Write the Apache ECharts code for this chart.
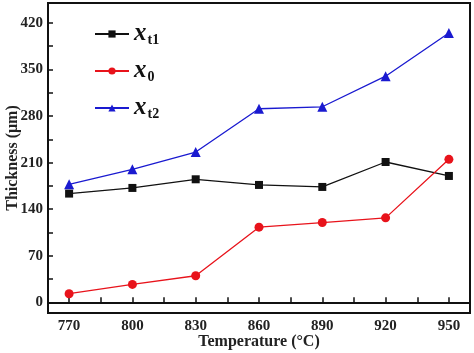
<!DOCTYPE html>
<html>
<head>
<meta charset="utf-8">
<script src="https://cdn.jsdelivr.net/npm/echarts@6/dist/echarts.min.js"></script>
<style>
  html, body { margin: 0; padding: 0; background: #fff; }
  #main { width: 474px; height: 353px; }
</style>
</head>
<body>
<div id="main"></div>
<script>
// 温度 (°C)
var temps = [770, 800, 830, 860, 890, 920, 950];
// 厚度 (μm)
var xt1 = [163.5, 172, 185, 176.5, 173.5, 211, 190];
var x0 = [13, 27, 40, 113, 120, 127, 215];
var xt2 = [177.5, 200, 226, 291, 294, 340, 405];
var xTickLabels = [770, 800, 830, 860, 890, 920, 950];
var xMinorTicks = [770, 785, 800, 815, 830, 845, 860, 875, 890, 905, 920, 935, 950];
var yTickLabels = [0, 70, 140, 210, 280, 350, 420];
var yMinorTicks = [0, 35, 70, 105, 140, 175, 210, 245, 280, 315, 350, 385, 420];

var font = '"Liberation Serif", "DejaVu Serif", serif';

function pairs(vals) {
  return temps.map(function (t, i) { return [t, vals[i]]; });
}

var chart = echarts.init(document.getElementById('main'));
var option = {
  animation: false,
  grid: {
    left: 48,
    right: 4,
    top: 3,
    bottom: 40,
    outerBoundsMode: 'none',
    containLabel: false,
    show: true,
    borderColor: '#111',
    borderWidth: 2
  },
  legend: {
    orient: 'vertical',
    left: 89,
    top: 16,
    itemWidth: 34,
    itemHeight: 9,
    itemGap: 11,
    data: ['xt1', 'x0', 'xt2'],
    formatter: function (name) {
      return '{x|x}{s|' + name.substring(1) + '}';
    },
    textStyle: {
      rich: {
        x: { fontFamily: font, fontStyle: 'italic', fontWeight: 'bold', fontSize: 25, color: '#111', lineHeight: 26, padding: [0, 0, 0, 0] },
        s: { fontFamily: font, fontWeight: 'bold', fontSize: 14, color: '#111', lineHeight: 26, padding: [12, 0, 0, 1] }
      }
    }
  },
  xAxis: {
    type: 'value',
    min: 760,
    max: 960,
    name: 'Temperature (°C)',
    nameLocation: 'middle',
    nameGap: 21,
    nameMoveOverlap: false,
    nameTextStyle: { fontFamily: font, fontWeight: 'bold', fontSize: 16, color: '#222' },
    axisLine: { lineStyle: { color: '#111', width: 2 } },
    axisTick: { inside: true, length: 5, customValues: xMinorTicks, lineStyle: { color: '#111', width: 1.5 } },
    axisLabel: { customValues: xTickLabels, fontFamily: font, fontWeight: 'bold', fontSize: 15, color: '#222', margin: 6 },
    splitLine: { show: false }
  },
  yAxis: {
    type: 'value',
    min: -16,
    max: 450,
    name: 'Thickness (μm)',
    nameLocation: 'middle',
    nameGap: 27,
    nameMoveOverlap: false,
    nameTextStyle: { fontFamily: font, fontWeight: 'bold', fontSize: 16, color: '#222' },
    axisLine: { lineStyle: { color: '#111', width: 2 } },
    axisTick: { inside: true, length: 5, customValues: yMinorTicks, lineStyle: { color: '#111', width: 1.5 } },
    axisLabel: { customValues: yTickLabels, fontFamily: font, fontWeight: 'bold', fontSize: 15, color: '#222', margin: 5 },
    splitLine: { show: false }
  },
  series: [
    {
      name: 'xt1',
      type: 'line',
      data: pairs(xt1),
      symbol: 'rect',
      symbolSize: 8,
      itemStyle: { color: '#111' },
      lineStyle: { color: '#111', width: 1.3 }
    },
    {
      name: 'x0',
      type: 'line',
      data: pairs(x0),
      symbol: 'circle',
      symbolSize: 9,
      itemStyle: { color: '#e8131b' },
      lineStyle: { color: '#e8131b', width: 1.3 }
    },
    {
      name: 'xt2',
      type: 'line',
      data: pairs(xt2),
      symbol: 'triangle',
      symbolSize: 10,
      itemStyle: { color: '#1a1ad0' },
      lineStyle: { color: '#1a1ad0', width: 1.3 }
    }
  ]
};
chart.setOption(option);
</script>
</body>
</html>
